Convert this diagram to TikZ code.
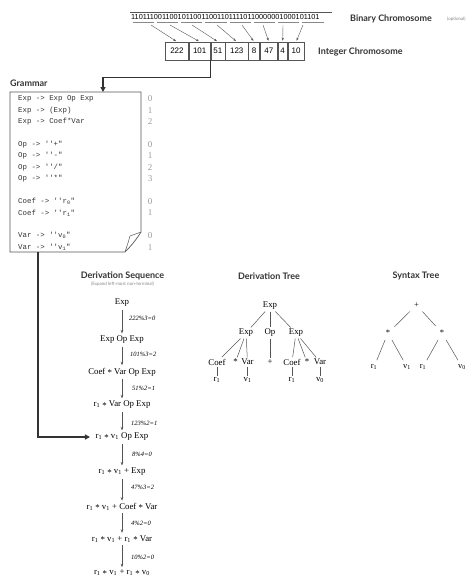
\documentclass[tikz,border=0pt]{standalone}
\usepackage{fontspec}
\setmainfont{Liberation Serif}
\setmonofont{Liberation Mono}
\newfontfamily\hsans{Liberation Sans}
\newfontfamily\gill{Lato}
\usetikzlibrary{arrows.meta,calc}
\definecolor{linegray}{HTML}{555555}
\definecolor{numgray}{HTML}{9A9A9A}
\definecolor{textgray}{HTML}{333333}
\newcommand\mstar{\raisebox{-0.28ex}{*}}
\begin{document}
\begin{tikzpicture}[x=1pt,y=-1pt,
  title/.style={font=\gill\bfseries\fontsize{9}{10}\selectfont, inner sep=0pt, text=textgray},
  tiny/.style={font=\gill\fontsize{4.5}{5}\selectfont, inner sep=0pt, text=numgray!120},
  cell/.style={draw=linegray, line width=0.6pt, minimum height=18pt, inner sep=0pt, anchor=west, font=\hsans\fontsize{8}{9}\selectfont},
  thinarrow/.style={draw=linegray, line width=0.4pt, -{Stealth[length=3pt,width=2.2pt]}, shorten >=1pt},
  bigarrow/.style={draw=textgray, line width=1.2pt, -{Triangle[length=5pt,width=5pt]}},
  gram/.style={font=\ttfamily\fontsize{7.4}{8}\selectfont, anchor=west, inner sep=0pt, text=textgray},
  num/.style={font=\fontsize{9}{10}\selectfont, inner sep=0pt, text=numgray},
  seq/.style={font=\fontsize{8.8}{10}\selectfont, inner sep=2.5pt},
  seqarrow/.style={draw=linegray, line width=0.5pt, -{Stealth[length=3.5pt,width=2.6pt]}},
  rule/.style={font=\itshape\fontsize{6.5}{7}\selectfont, anchor=west, inner sep=0pt},
  tn/.style={font=\fontsize{8.8}{10}\selectfont, inner sep=1.5pt},
  tl/.style={font=\fontsize{8.8}{10}\selectfont, inner sep=1pt},
  te/.style={draw=linegray, line width=0.5pt},
  sn/.style={font=\fontsize{8.5}{10}\selectfont, inner sep=4pt},
]
\useasboundingbox (0,0) rectangle (474,582);

% ---------- Binary chromosome ----------
\node[font=\hsans\fontsize{7.3}{8}\selectfont, inner sep=0pt, anchor=west] (bin) at (131,17) {110111001100101100110011011110110000001000101101};
\draw[linegray, line width=0.5pt] (130,12) -- (332,12);
\foreach \i in {0,...,7}
  \draw[linegray!70, line width=0.6pt] ({131+24.25*\i+1.5},22.5) -- ({131+24.25*(\i+1)-1.5},22.5);
\node[title, anchor=west] (bct) at (350,19) {Binary Chromosome};
\node[tiny, anchor=west] (opt) at (447,19) {(optional)};

% ---------- Integer chromosome ----------
\node[cell, minimum width=23.3pt] (c1) at (165,51) {222};
\node[cell, minimum width=21pt] (c2) at (c1.east) {101};
\node[cell, minimum width=14pt] (c3) at (c2.east) {51};
\node[cell, minimum width=22.7pt] (c4) at (c3.east) {123};
\node[cell, minimum width=10.7pt] (c5) at (c4.east) {8};
\node[cell, minimum width=17.6pt] (c6) at (c5.east) {47};
\node[cell, minimum width=9pt] (c7) at (c6.east) {4};
\node[cell, minimum width=16.7pt] (c8) at (c7.east) {10};
\node[title, anchor=west] (ict) at (318,52) {Integer Chromosome};

\foreach \sx [count=\i] in {151,170,192,217,242,263,283,303} {
  \coordinate (s\i) at (\sx,25);
  \draw[thinarrow] (s\i) -- (c\i.north);
}

% ---------- Grammar ----------
\node[title, anchor=west] (gt) at (10,83) {Grammar};
\coordinate (gtop) at (103,92);
\coordinate (gbot) at (38,252);
\draw[bigarrow] (c2.south east) -- ++(0,17) -| (gtop);

\draw[linegray, line width=0.7pt] (10,92) -- (141,92) -- (141,232)
   .. controls (136,240) and (131,246) .. (125,252) -- (10,252) -- cycle;
\draw[linegray, line width=0.5pt] (141,232) .. controls (136,234) .. (130,236)
   .. controls (128,243) .. (125,252);

\node[gram] (g0) at (18,99) {Exp -> Exp Op Exp};
\node[gram] (g1) at (18,110.4) {Exp -> (Exp)};
\node[gram] (g2) at (18,121.8) {Exp -> Coef*Var};
\node[gram] (g4) at (18,144.6) {Op -> ''+"};
\node[gram] (g5) at (18,156) {Op -> ''-"};
\node[gram] (g6) at (18,167.4) {Op -> ''/"};
\node[gram] (g7) at (18,178.8) {Op -> ''*"};
\node[gram] (g9) at (18,201.6) {Coef -> ''r\textsubscript{0}"};
\node[gram] (g10) at (18,213) {Coef -> ''r\textsubscript{1}"};
\node[gram] (g12) at (18,235.8) {Var -> ''v\textsubscript{0}"};
\node[gram] (g13) at (18,247.2) {Var -> ''v\textsubscript{1}"};

\node[num] (n0) at (150,99) {0};
\node[num] (n1) at (150,110.4) {1};
\node[num] (n2) at (150,121.8) {2};
\node[num] (n4) at (150,144.6) {0};
\node[num] (n5) at (150,156) {1};
\node[num] (n6) at (150,167.4) {2};
\node[num] (n7) at (150,178.8) {3};
\node[num] (n9) at (150,201.6) {0};
\node[num] (n10) at (150,213) {1};
\node[num] (n12) at (150,235.8) {0};
\node[num] (n13) at (150,247.2) {1};

% ---------- Derivation sequence ----------
\node[title] (dst) at (122.5,276) {Derivation Sequence};
\node[tiny] (dss) at (122.5,284) {(Expand left-most non-terminal)};

\node[seq] (d0) at (122,303) {Exp};
\node[seq] (d1) at (122,340) {Exp Op Exp};
\node[seq] (d2) at (122,372) {Coef \mstar{} Var Op Exp};
\node[seq] (d3) at (122,405) {r\textsubscript{1} \mstar{} Var Op Exp};
\node[seq] (d4) at (122,437) {r\textsubscript{1} \mstar{} v\textsubscript{1} Op Exp};
\node[seq] (d5) at (122,472) {r\textsubscript{1} \mstar{} v\textsubscript{1} + Exp};
\node[seq] (d6) at (122,507) {r\textsubscript{1} \mstar{} v\textsubscript{1} + Coef \mstar{} Var};
\node[seq] (d7) at (122,539) {r\textsubscript{1} \mstar{} v\textsubscript{1} + r\textsubscript{1} \mstar{} Var};
\node[seq] (d8) at (122,573) {r\textsubscript{1} \mstar{} v\textsubscript{1} + r\textsubscript{1} \mstar{} v\textsubscript{0}};

\foreach \a/\b in {d0/d1,d1/d2,d2/d3,d3/d4,d4/d5,d5/d6,d6/d7,d7/d8}
  \draw[seqarrow] (\a) -- (\b);

\node[rule] (r1) at (129,318) {222\%3=0};
\node[rule] (r2) at (130,354) {101\%3=2};
\node[rule] (r3) at (132,388) {51\%2=1};
\node[rule] (r4) at (131,423) {123\%2=1};
\node[rule] (r5) at (132,454) {8\%4=0};
\node[rule] (r6) at (131,487) {47\%3=2};
\node[rule] (r7) at (131,523) {4\%2=0};
\node[rule] (r8) at (131,557) {10\%2=0};

\draw[bigarrow, shorten >=3pt] (gbot) |- (d4.west);

% ---------- Derivation tree ----------
\node[title] (dtt) at (269,276) {Derivation Tree};
\node[tn] (t0) at (270,306) {Exp};
\node[tn] (t1) at (246,333) {Exp};
\node[tn] (t2) at (270,333) {Op};
\node[tn] (t3) at (296,333) {Exp};
\node[tn] (t4) at (217,362) {Coef};
\node[tn] (t5) at (235.5,362) {\mstar};
\node[tn] (t6) at (247.5,362) {Var};
\node[tn] (t7) at (270,362) {+};
\node[tn] (t8) at (292,362) {Coef};
\node[tn] (t9) at (307,362) {\mstar};
\node[tn] (t10) at (320,362) {Var};
\node[tl] (t11) at (217,380) {r\textsubscript{1}};
\node[tl] (t12) at (247.5,380) {v\textsubscript{1}};
\node[tl] (t13) at (292,380) {r\textsubscript{1}};
\node[tl] (t14) at (320,380) {v\textsubscript{0}};
\foreach \a/\b in {t0/t1,t0/t2,t0/t3,t1/t4,t1/t5,t1/t6,t2/t7,t3/t8,t3/t9,t3/t10,t4/t11,t6/t12,t8/t13,t10/t14}
  \draw[te] (\a) -- (\b);

% ---------- Syntax tree ----------
\node[title] (stt) at (416,276) {Syntax Tree};
\node[sn] (x0) at (416.5,305) {+};
\node[sn] (x1) at (388,333) {\mstar};
\node[sn] (x2) at (442,333) {\mstar};
\node[sn] (x3) at (374,367) {r\textsubscript{1}};
\node[sn] (x4) at (407,367) {v\textsubscript{1}};
\node[sn] (x5) at (423,367) {r\textsubscript{1}};
\node[sn] (x6) at (462,367) {v\textsubscript{0}};
\foreach \a/\b in {x0/x1,x0/x2,x1/x3,x1/x4,x2/x5,x2/x6}
  \draw[te] (\a) -- (\b);
\end{tikzpicture}
\end{document}
